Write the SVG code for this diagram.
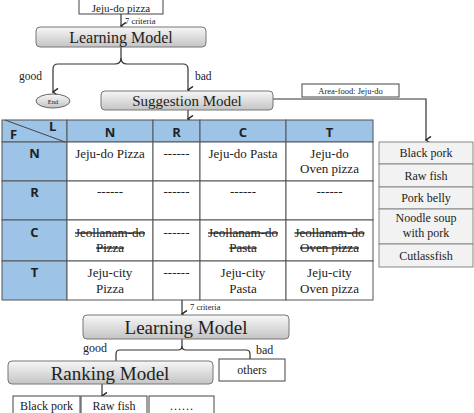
<svg xmlns="http://www.w3.org/2000/svg" width="474" height="413" viewBox="0 0 474 413">
<defs>
<linearGradient id="g" x1="0" y1="0" x2="0" y2="1">
<stop offset="0" stop-color="#f7f7f7"/>
<stop offset="1" stop-color="#c4c4c4"/>
</linearGradient>
<marker id="ah" markerWidth="8" markerHeight="8" refX="4" refY="6" orient="auto" markerUnits="userSpaceOnUse" viewBox="0 0 8 8">
<path d="M0.5,1 L4,6 L7.5,1" fill="none" stroke="#222" stroke-width="1.5"/>
</marker>
</defs>
<style>
.s{font-family:"Liberation Serif",serif;fill:#222}
.b{font-family:"Open Sans","Liberation Sans",sans-serif;font-weight:bold;fill:#222;font-size:13px}
.mdl{fill:url(#g);stroke:#777;stroke-width:1}
.ln{fill:none;stroke:#333;stroke-width:1.2}
.cell{fill:#fff;stroke:#555;stroke-width:1}
.hd{fill:#9dc3e6;stroke:#555;stroke-width:1}
.fl{fill:#f2f2f2;stroke:#888;stroke-width:1}
.bx{fill:#fff;stroke:#444;stroke-width:1}
.st{text-decoration:line-through}
</style>

<g id="connectors">
<line class="ln" x1="121" y1="14" x2="121" y2="26" marker-end="url(#ah)"/>
<path class="ln" d="M121,47 V58 Q121,64 115,64 H58 Q53,64 53,69 V92" marker-end="url(#ah)"/>
<path class="ln" d="M121,58 Q121,64 127,64 H183 Q188,64 188,69 V90" marker-end="url(#ah)"/>
<line class="ln" x1="188" y1="110" x2="188" y2="119" marker-end="url(#ah)"/>
<path class="ln" d="M273,99 H426 V140" marker-end="url(#ah)"/>
<line class="ln" x1="182" y1="300" x2="182" y2="314" marker-end="url(#ah)"/>
<path class="ln" d="M182,339 V346 Q182,350 178,350 H120 Q116,350 116,354 V361"/>
<path class="ln" d="M182,346 Q182,350 186,350 H246 Q250,350 250,354 V359"/>
<line class="ln" x1="102" y1="384" x2="102" y2="396" marker-end="url(#ah)"/>
</g>

<g id="input">
<rect class="bx" x="79" y="-1" width="84" height="15" stroke="#777"/>
<text class="s" x="121" y="11.5" font-size="11" text-anchor="middle">Jeju-do pizza</text>
</g>
<text class="s" x="125" y="24" font-size="8.5">7 criteria</text>

<g id="learning1">
<rect class="mdl" x="36" y="27" width="170" height="20" rx="4"/>
<text class="s" x="121" y="43" font-size="16" text-anchor="middle">Learning Model</text>
</g>
<text class="s" x="19" y="80" font-size="11.5">good</text>
<text class="s" x="195" y="80" font-size="11.5">bad</text>

<g id="end">
<ellipse cx="53" cy="101" rx="17" ry="7" fill="url(#g)" stroke="#666"/>
<text class="s" x="53" y="103.5" font-size="6.5" text-anchor="middle">End</text>
</g>

<g id="suggestion">
<rect class="mdl" x="101" y="91" width="172" height="19" rx="4"/>
<text class="s" x="187" y="106" font-size="15" text-anchor="middle">Suggestion Model</text>
</g>

<g id="areafood">
<rect class="bx" x="302" y="84" width="97" height="13" stroke="#777"/>
<text class="s" x="350.5" y="94" font-size="8.5" text-anchor="middle">Area-food: Jeju-do</text>
</g>

<g id="table">
<rect class="hd" x="2" y="120" width="65" height="22"/>
<rect class="hd" x="67" y="120" width="86" height="22"/>
<rect class="hd" x="153" y="120" width="47" height="22"/>
<rect class="hd" x="200" y="120" width="86" height="22"/>
<rect class="hd" x="286" y="120" width="87" height="22"/>
<rect class="hd" x="2" y="142" width="65" height="39"/>
<rect class="hd" x="2" y="181" width="65" height="39"/>
<rect class="hd" x="2" y="220" width="65" height="41"/>
<rect class="hd" x="2" y="261" width="65" height="39"/>
<g>
<rect class="cell" x="67" y="142" width="86" height="39"/>
<rect class="cell" x="153" y="142" width="47" height="39"/>
<rect class="cell" x="200" y="142" width="86" height="39"/>
<rect class="cell" x="286" y="142" width="87" height="39"/>
<rect class="cell" x="67" y="181" width="86" height="39"/>
<rect class="cell" x="153" y="181" width="47" height="39"/>
<rect class="cell" x="200" y="181" width="86" height="39"/>
<rect class="cell" x="286" y="181" width="87" height="39"/>
<rect class="cell" x="67" y="220" width="86" height="41"/>
<rect class="cell" x="153" y="220" width="47" height="41"/>
<rect class="cell" x="200" y="220" width="86" height="41"/>
<rect class="cell" x="286" y="220" width="87" height="41"/>
<rect class="cell" x="67" y="261" width="86" height="39"/>
<rect class="cell" x="153" y="261" width="47" height="39"/>
<rect class="cell" x="200" y="261" width="86" height="39"/>
<rect class="cell" x="286" y="261" width="87" height="39"/>
</g>
<line x1="5" y1="120" x2="65" y2="142" stroke="#444" stroke-width="1"/>
<text class="b" x="10" y="139" font-size="10">F</text>
<text class="b" x="49" y="131" font-size="10">L</text>
<text class="b" x="110" y="137" text-anchor="middle">N</text>
<text class="b" x="176.5" y="137" text-anchor="middle">R</text>
<text class="b" x="243" y="137" text-anchor="middle">C</text>
<text class="b" x="329.5" y="137" text-anchor="middle">T</text>
<text class="b" x="34.5" y="158" text-anchor="middle">N</text>
<text class="b" x="34.5" y="197" text-anchor="middle">R</text>
<text class="b" x="34.5" y="237" text-anchor="middle">C</text>
<text class="b" x="34.5" y="277" text-anchor="middle">T</text>
<g class="s" font-size="13" text-anchor="middle">
<text x="110" y="158">Jeju-do Pizza</text>
<text x="176.5" y="158">------</text>
<text x="243" y="158">Jeju-do Pasta</text>
<text x="329.5" y="158">Jeju-do</text>
<text x="329.5" y="173">Oven pizza</text>
<text x="110" y="196">------</text>
<text x="176.5" y="196">------</text>
<text x="243" y="196">------</text>
<text x="329.5" y="196">------</text>
<text class="st" x="110" y="237">Jeollanam-do</text>
<text class="st" x="110" y="252">Pizza</text>
<text x="176.5" y="237">------</text>
<text class="st" x="243" y="237">Jeollanam-do</text>
<text class="st" x="243" y="252">Pasta</text>
<text class="st" x="329.5" y="237">Jeollanam-do</text>
<text class="st" x="329.5" y="252">Oven pizza</text>
<text x="110" y="277">Jeju-city</text>
<text x="110" y="293">Pizza</text>
<text x="176.5" y="277">------</text>
<text x="243" y="277">Jeju-city</text>
<text x="243" y="293">Pasta</text>
<text x="329.5" y="277">Jeju-city</text>
<text x="329.5" y="293">Oven pizza</text>
</g>
</g>

<g id="foodlist">
<rect class="fl" x="379" y="142" width="94" height="22"/>
<rect class="fl" x="379" y="164" width="94" height="23"/>
<rect class="fl" x="379" y="187" width="94" height="22"/>
<rect class="fl" x="379" y="209" width="94" height="35"/>
<rect class="fl" x="379" y="244" width="94" height="23"/>
<g class="s" font-size="12" text-anchor="middle">
<text x="426" y="157">Black pork</text>
<text x="426" y="180">Raw fish</text>
<text x="426" y="202">Pork belly</text>
<text x="426" y="222">Noodle soup</text>
<text x="426" y="237">with pork</text>
<text x="426" y="260">Cutlassfish</text>
</g>
</g>

<text class="s" x="190" y="310" font-size="8.5">7 criteria</text>
<g id="learning2">
<rect class="mdl" x="83" y="315" width="206" height="24" rx="4"/>
<text class="s" x="186" y="334" font-size="19" text-anchor="middle">Learning Model</text>
</g>
<text class="s" x="83" y="352" font-size="12">good</text>
<text class="s" x="256" y="354" font-size="12">bad</text>

<g id="ranking">
<rect class="mdl" x="8" y="361" width="205" height="23" rx="4"/>
<text class="s" x="110" y="380" font-size="19" text-anchor="middle">Ranking Model</text>
</g>
<g id="others">
<rect class="bx" x="219" y="359" width="66" height="22"/>
<text class="s" x="252" y="374" font-size="12" text-anchor="middle">others</text>
</g>

<g id="results">
<rect class="bx" x="13" y="396" width="67" height="18"/>
<rect class="bx" x="81" y="396" width="66" height="18"/>
<rect class="bx" x="149" y="396" width="65" height="18"/>
<g class="s" font-size="12" text-anchor="middle">
<text x="46.5" y="410">Black pork</text>
<text x="114" y="410">Raw fish</text>
<text x="181.5" y="410">……</text>
</g>
</g>
</svg>
